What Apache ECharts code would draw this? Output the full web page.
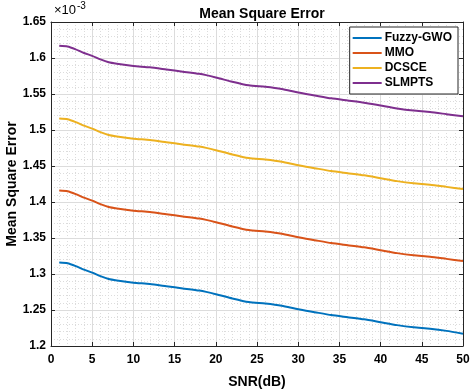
<!DOCTYPE html>
<html><head><meta charset="utf-8">
<script src="https://cdn.jsdelivr.net/npm/echarts@6/dist/echarts.min.js"></script>
<style>html,body{margin:0;padding:0;background:#fff}#c{width:474px;height:389px}</style>
</head><body><div id="c"></div>
<script>
const snr = [1,2,3,4,5,6,7,8,10,12,14,16,18,20,22,24,26,28,30,32,34,36,38,40,42,44,46,48,50];
const fuzzyGwo = [1.316,1.315,1.311,1.306,1.302,1.297,1.293,1.291,1.288,1.286,1.283,1.280,1.277,1.272,1.266,1.261,1.259,1.256,1.251,1.247,1.243,1.240,1.237,1.233,1.229,1.226,1.224,1.221,1.217];
const mmo = [1.416,1.415,1.411,1.406,1.402,1.397,1.393,1.391,1.388,1.386,1.383,1.380,1.377,1.372,1.366,1.361,1.359,1.356,1.351,1.347,1.343,1.340,1.337,1.333,1.329,1.326,1.324,1.321,1.318];
const dcsce = [1.516,1.515,1.511,1.506,1.502,1.497,1.493,1.491,1.488,1.486,1.483,1.480,1.477,1.472,1.466,1.461,1.459,1.456,1.451,1.447,1.443,1.440,1.437,1.433,1.429,1.426,1.424,1.421,1.418];
const slmpts = [1.617,1.616,1.612,1.607,1.603,1.598,1.594,1.592,1.589,1.587,1.584,1.581,1.578,1.573,1.567,1.562,1.560,1.557,1.552,1.548,1.544,1.541,1.538,1.534,1.530,1.527,1.525,1.522,1.519];
const seriesNames = ['Fuzzy-GWO','MMO','DCSCE','SLMPTS'];
const seriesData = [fuzzyGwo, mmo, dcsce, slmpts];
const colors = ['#0072BD','#D95319','#EDB120','#7E2F8E'];

const FONT = '"Liberation Sans", Arial, sans-serif';
const axisColor = '#262626';
const chart = echarts.init(document.getElementById('c'));
const fmtY = v => String(Math.round(v*100)/100);
const gridLine = {show:true, lineStyle:{color:'#dcdcdc', width:1}};
const minorLine = {show:true, lineStyle:{color:'#dcdcdc', width:1, type:[1,2]}};
chart.setOption({
  animation:false,
  color: colors,
  title:{text:'Mean Square Error', left:257, top:2, textAlign:'center',
    textStyle:{fontFamily:FONT, fontWeight:'bold', fontSize:14, color:'#000'}},
  grid:{left:51, right:11, top:22, bottom:43, containLabel:false, outerBoundsMode:'none'},
  legend:{orient:'vertical', right:16, top:27, icon:'rect', itemWidth:29, itemHeight:2,
    itemGap:3, padding:[5,6,5,3], borderColor:axisColor, borderWidth:1, backgroundColor:'#fff',
    textStyle:{fontFamily:FONT, fontWeight:'bold', fontSize:12, color:'#000', padding:[0,0,0,-2]}, data:seriesNames},
  xAxis:[{type:'value', min:0, max:50, interval:5, name:'SNR(dB)', nameLocation:'middle', nameGap:29, nameMoveOverlap:false,
    nameTextStyle:{fontFamily:FONT, fontWeight:'bold', fontSize:14, color:'#000'},
    axisLine:{onZero:false, lineStyle:{color:axisColor}},
    axisTick:{inside:true, length:4, lineStyle:{color:axisColor}},
    axisLabel:{fontFamily:FONT, fontWeight:'bold', fontSize:12, color:'#000', margin:8},
    splitLine:gridLine, minorTick:{show:false, splitNumber:5}, minorSplitLine:minorLine},
   {type:'value', position:'top', min:0, max:50, interval:5,
    axisLine:{show:true, onZero:false, lineStyle:{color:axisColor}},
    axisTick:{show:true, inside:true, length:4, lineStyle:{color:axisColor}},
    axisLabel:{show:false}, splitLine:{show:false}}],
  yAxis:[{type:'value', min:1.2, max:1.65, interval:0.05, name:'Mean Square Error', nameLocation:'middle', nameGap:32, nameMoveOverlap:false,
    nameTextStyle:{fontFamily:FONT, fontWeight:'bold', fontSize:14, color:'#000'},
    axisLine:{show:true, onZero:false, lineStyle:{color:axisColor}},
    axisTick:{show:true, inside:true, length:4, lineStyle:{color:axisColor}},
    axisLabel:{fontFamily:FONT, fontWeight:'bold', fontSize:12, color:'#000', margin:5, formatter:fmtY},
    splitLine:gridLine, minorTick:{show:false, splitNumber:5}, minorSplitLine:minorLine},
   {type:'value', position:'right', min:1.2, max:1.65, interval:0.05,
    axisLine:{show:true, onZero:false, lineStyle:{color:axisColor}},
    axisTick:{show:true, inside:true, length:4, lineStyle:{color:axisColor}},
    axisLabel:{show:false}, splitLine:{show:false}}],
  graphic:[{type:'text', left:54, top:4, style:{text:'\u00d710', fontFamily:FONT, fontSize:13, fill:'#000'}},
           {type:'text', left:77, top:1, style:{text:'-3', fontFamily:FONT, fontSize:10, fill:'#000'}}],
  series: seriesNames.map((n,i)=>({name:n, type:'line', showSymbol:false, smooth:0.2,
    lineStyle:{width:2, color:colors[i]}, data: snr.map((x,j)=>[x, seriesData[i][j]])}))
});
</script></body></html>
